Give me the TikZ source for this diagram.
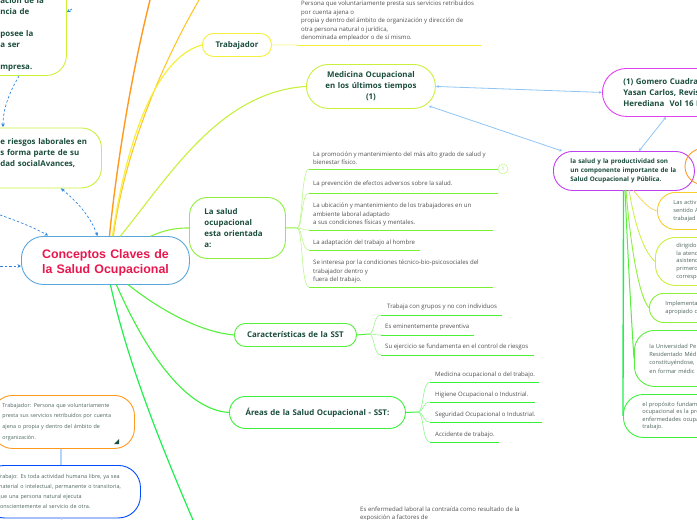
\documentclass[tikz,border=0pt]{standalone}
\usepackage{fontspec}
\setmainfont{Open Sans}
\newfontfamily\ctfont{Liberation Sans}
\usetikzlibrary{arrows.meta,calc}
\definecolor{ink}{HTML}{1B4D3E}
\definecolor{gtx}{HTML}{505050}
\definecolor{gbx}{HTML}{4F6660}
\definecolor{cblue}{HTML}{5AA7DC}
\definecolor{crim}{HTML}{E8184F}
\definecolor{corange}{HTML}{FF9A1F}
\definecolor{cgold}{HTML}{FFC72C}
\definecolor{cyel}{HTML}{F4F03C}
\definecolor{clime}{HTML}{C8F03C}
\definecolor{cgrass}{HTML}{8CF03C}
\definecolor{cg1}{HTML}{55F03C}
\definecolor{cg2}{HTML}{3CF03C}
\definecolor{cg3}{HTML}{1EF04E}
\definecolor{cmag}{HTML}{E040F0}
\definecolor{cpur}{HTML}{C040F0}
\definecolor{lblue}{HTML}{8FC4F5}
\definecolor{dblue}{HTML}{2F86E0}
\tikzset{
 bx/.style n args={4}{draw,fill=white,rounded corners=#4pt,anchor=north west,
   minimum width=#1pt,minimum height=#2pt,text width={#1pt-2*#3pt},
   inner xsep=#3pt,inner ysep=0pt,line width=0.9pt},
 hd/.style={align=center,text=ink,font=\fontsize{7.9}{11}\selectfont\bfseries},
 hl/.style={align=left,text=ink,font=\fontsize{7.9}{11}\selectfont\bfseries},
 hs/.style={align=left,text=ink,font=\fontsize{6.3}{9}\selectfont\bfseries},
 tb/.style={align=left,text=gbx,font=\fontsize{5.7}{8}\selectfont},
 tl/.style={align=left,text=gbx,font=\fontsize{5.4}{10.9}\selectfont},
 itxt/.style={anchor=west,inner sep=0pt,align=left,text=gtx,font=\fontsize{6.05}{8.5}\selectfont},
 br/.style={line width=1.1pt,line cap=round},
 ul/.style={line width=1pt},
 tw/.style={line width=0.6pt},
 dsh/.style={draw=dblue,line width=0.7pt,dash pattern=on 2.5pt off 2pt,{Stealth[length=3.5pt,width=3.5pt]}-{Stealth[length=3.5pt,width=3.5pt]}},
 dse/.style={draw=dblue,line width=0.7pt,dash pattern=on 2.5pt off 2pt,-{Stealth[length=3.5pt,width=3.5pt]}},
 lnk/.style={draw=lblue,line width=0.8pt,{Stealth[length=3pt,width=3pt]}-{Stealth[length=3pt,width=3pt]}},
}
\begin{document}
\begin{tikzpicture}[x=1pt,y=-1pt]
\useasboundingbox (0,0) rectangle (697,520);
\clip (0,0) rectangle (697,520);

% nodes
\node[bx={168}{48}{4}{22},draw=cblue,align=center,text=crim,font=\fontsize{12.4}{15}\selectfont\ctfont\bfseries] (central) at (21,236) {\rule{0pt}{14pt}Conceptos Claves de\\la Salud Ocupacional};
\node[bx={106}{120}{40}{20},draw=clime!90!yellow,hl] (tl1) at (-40,-45) {~\\~\\~\\~\\\mbox{ación de la}\\\mbox{ncia de}\\~\\\mbox{posee la}\\\mbox{a ser}\\~\\\mbox{mpresa.}};
\node[bx={141}{60}{40}{20},draw=clime,hl] (tl2) at (-40,127.5) {\mbox{e riesgos laborales en}\\\mbox{s forma parte de su}\\\mbox{dad socialAvances,}\\~};
\coordinate (far1) at (0,215);
\coordinate (far2) at (0,266);
\coordinate (far3) at (72,9);

\node[bx={69}{23}{2}{11},draw=cyel,hd] (trab) at (202,33) {Trabajador};
\node[bx={129}{44}{4}{22},draw=clime,hd] (med) at (306,64) {Medicina Ocupacional\\en los últimos tiempos\\(1)};
\node[bx={96}{61}{15}{18},draw=cgrass,hl] (ls) at (189,197) {La salud\\ocupacional\\esta orientada\\a:};
\node[bx={122}{23}{2}{11},draw=cg1,hd] (car) at (234,323) {Características de la SST};
\node[bx={176}{32}{2}{16},draw=cg2,hd] (are) at (229,396) {Áreas de la Salud Ocupacional - SST:};

\node[bx={140}{48}{21}{24},draw=cmag,hl] (gom) at (602,68) {\mbox{(1) Gomero Cuadra}\\\mbox{Yasan Carlos, Revis}\\\mbox{Herediana\ \ Vol 16 N}};
\node[bx={141}{39}{17}{19},draw=cpur,hs] (sp) at (553,151) {\mbox{la salud y la productividad son}\\\mbox{un componente importante de la}\\\mbox{Salud Ocupacional y Pública.}};
\draw[draw=corange,line width=0.9pt] (703,166.5) circle (18);

\node[bx={100}{37}{16}{18},draw=cyel!70!orange,tb] (r1) at (657,192) {\mbox{Las activ}\\\mbox{sentido A}\\\mbox{trabajad}};
\node[bx={100}{48}{21}{20},draw=clime,tb,font=\fontsize{5.7}{7.6}\selectfont] (r2) at (655,237) {\mbox{dirigido}\\\mbox{la atenc}\\\mbox{asistenc}\\\mbox{primero}\\\mbox{correspo}};
\node[bx={100}{29}{16}{14},draw=cgrass,tb] (r3) at (649,293) {\mbox{Implementa}\\\mbox{apropiado d}};
\node[bx={120}{56}{15}{20},draw=cg1,tb,font=\fontsize{5.7}{8.3}\selectfont] (r4) at (634,330) {\mbox{la Universidad Pe}\\\mbox{Residentado Méd}\\\mbox{constituyéndose,}\\\mbox{en formar médic}};
\node[bx={120}{43}{19}{20},draw=cg2,tb,font=\fontsize{5.7}{7.5}\selectfont] (r5) at (623,394) {\mbox{el propósito fundame}\\\mbox{ocupacional es la prev}\\\mbox{enfermedades ocupa}\\\mbox{trabajo.}};

\node[bx={142}{53}{10}{20},draw=corange,tl] (bo) at (-8,395) {\mbox{Trabajador: Persona que voluntariamente}\\\mbox{presta sus servicios retribuidos por cuenta}\\\mbox{ajena o propia y dentro del ámbito de}\\\mbox{organización.}};
\node[bx={158}{52.5}{15}{22},draw=blue!70!cyan,tl,font=\fontsize{5.45}{10}\selectfont] (bb) at (-18,465) {\mbox{Trabajo: Es toda actividad humana libre, ya sea}\\\mbox{material o intelectual, permanente o transitoria,}\\\mbox{que una persona natural ejecuta}\\\mbox{conscientemente al servicio de otra.}};
\coordinate (bbend) at (61,520);
\fill[ink] (114,444) -- (119,444) -- (119,439) -- cycle;

% branches from the central node
\draw[corange,line width=1.4pt] ([xshift=4pt]central.north) .. controls (113,200) and (125,100) .. (150,0);
\draw[cgold,br] ([xshift=8pt]central.north) .. controls (122,170) and (150,85) .. (199,0);
\draw[cyel,line width=1.2pt] ([xshift=7pt]central.north) .. controls (125,150) and (153,58) .. (trab.west);
\draw[clime,br] ([xshift=15pt]central.north) .. controls (170,175) and (220,92) .. (med.west);
\draw[cgrass,br] (central.north east) ++(-39,0) coordinate (a1) .. controls (165,230) and (175,228) .. (ls.west);
\draw[cg1,br] ([xshift=23pt]central.south) .. controls (160,310) and (200,332) .. (car.west);
\draw[cg2,br] ([xshift=11pt]central.south) .. controls (145,350) and (185,410) .. (are.west);
\draw[cg3,line width=1.2pt] ([xshift=5pt]central.south) .. controls (125,350) and (150,420) .. (193,520);

% dashed links
\draw[dse] (tl1.south -| 19,75) .. controls (8,95) and (3,110) .. (3,127);
\draw[dse] (far3) -- (tl1.east |- 0,12);
\draw[dsh] ([xshift=30pt]tl2.south) .. controls (75,200) and (90,215) .. ([xshift=-8pt]central.north);
\draw[dse] (far1) .. controls (20,222) and (35,228) .. (48,235.5);
\draw[dse] (far2) -- (central.west |- 0,266);

% medicine links
\draw[lnk] (gom.west) -- (med.east);
\draw[lnk] (sp.north west) ++(9,0) coordinate (a2) -- (429,106);
\draw[lnk] (666,117) -- (639,151);

% trabajador text
\coordinate (tu1) at (297,45);
\coordinate (tu2) at (481,45);
\draw[cyel!45,line width=1pt] (trab.east) -- (tu1);
\draw[cyel,ul] (tu1) -- (tu2);
\node[itxt] (tt) at (301,21) {Persona que voluntariamente presta sus servicios retribuidos\\por cuenta ajena o\\propia y dentro del ámbito de organización y dirección de\\otra persona natural o jurídica,\\denominada empleador o de sí mismo.};

% la salud items
\coordinate (lr) at (297,228);
\draw[cgrass,line width=1pt] (ls.east) -- (lr);
\foreach \n/\yy/\xe in {1/169/498,2/193/498,3/230/493,4/250/420,5/287/493}{
  \coordinate (lu\n) at (309,\yy);
  \coordinate (le\n) at (\xe,\yy);
  \draw[cgrass!60,tw] (lr) .. controls (303,228) and (301,\yy) .. (lu\n);
  \draw[cgrass!85!green,ul] (lu\n) -- (le\n);
}
\node[draw=cgrass!60,circle,line width=0.5pt,minimum size=10pt,inner sep=0pt,text=cgrass,font=\fontsize{5}{6}\selectfont] (n1) at (503,169) {1};
\node[itxt] (l1) at (313,158) {La promoción y mantenimiento del más alto grado de salud y\\bienestar físico.};
\node[itxt] (l2) at (313,184) {La prevención de efectos adversos sobre la salud.};
\node[itxt] (l3) at (313,214.5) {La ubicación y mantenimiento de los trabajadores en un\\ambiente laboral adaptado\\a sus condiciones físicas y mentales.};
\node[itxt] (l4) at (313,243) {La adaptación del trabajo al hombre};
\node[itxt] (l5) at (313,271.5) {Se interesa por la condiciones técnico-bio-psicosociales del\\trabajador dentro y\\fuera del trabajo.};

% caracteristicas
\coordinate (cr) at (369,334);
\draw[cg1,line width=1pt] (car.east) -- (cr);
\foreach \n/\yy/\xe in {1/315/502,2/335/474,3/355/534}{
  \coordinate (cu\n) at (381,\yy);
  \coordinate (ce\n) at (\xe,\yy);
  \draw[cg1!60,tw] (cr) .. controls (375,334) and (373,\yy) .. (cu\n);
  \draw[cg1!90!green,ul] (cu\n) -- (ce\n);
}
\node[itxt] (c1) at (387,307) {Trabaja con grupos y no con individuos};
\node[itxt] (c2) at (385,327) {Es eminentemente preventiva};
\node[itxt] (c3) at (385,347) {Su ejercicio se fundamenta en el control de riesgos};

% areas
\coordinate (ar) at (418,412);
\draw[cg2,line width=1pt] (are.east) -- (ar);
\foreach \n/\yy/\xe in {1/382/539,2/402/535,3/422/542,4/442/499}{
  \coordinate (au\n) at (430,\yy);
  \coordinate (ae\n) at (\xe,\yy);
  \draw[cg2!60,tw] (ar) .. controls (424,412) and (422,\yy) .. (au\n);
  \draw[cg2!90!green,ul] (au\n) -- (ae\n);
}
\node[itxt] (a1t) at (435,375) {Medicina ocupacional o del trabajo.};
\node[itxt] (a2t) at (435,395) {Higiene Ocupacional o Industrial.};
\node[itxt] (a3t) at (435,415) {Seguridad Ocupacional o Industrial.};
\node[itxt] (a4t) at (435,435) {Accidente de trabajo.};
\node[itxt] (bt) at (360,514) {Es enfermedad laboral la contraída como resultado de la\\exposición a factores de};

% right column connectors
\draw[cyel!70!orange,tw] (633,190) .. controls (640,198) and (648,209) .. (r1.west);
\draw[clime,line width=0.8pt] (629,190) .. controls (634,220) and (642,250) .. (r2.west);
\draw[cgrass,line width=0.9pt] (626,190) .. controls (630,240) and (638,295) .. (r3.west);
\draw[cg1,line width=1pt] (625,190) .. controls (628,260) and (632,330) .. (r4.west);
\draw[cg3,line width=1.4pt] (623.5,190) .. controls (623.5,270) and (623,350) .. (r5.west);

% bottom-left link
\draw[lblue!70,line width=1.6pt] (bo.south -| 61,449) -- (bb.north -| 61,465);
\draw[lblue!70,line width=1pt] (bb.south -| 61,518) -- (bbend);
\end{tikzpicture}
\end{document}
